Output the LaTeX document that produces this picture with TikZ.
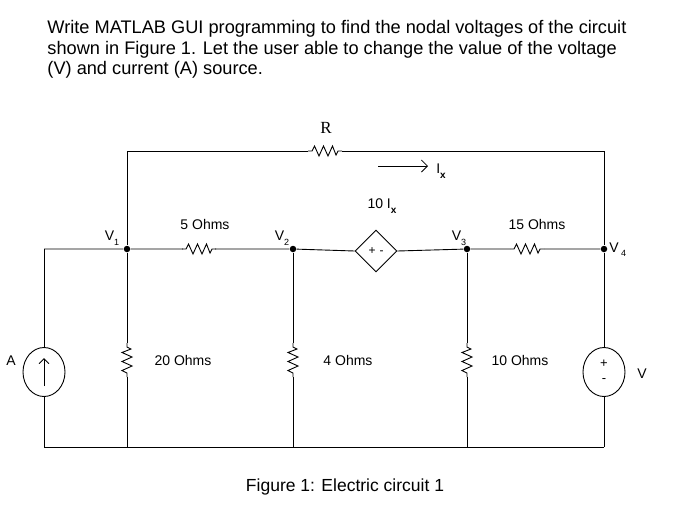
\documentclass[tikz,border=0pt]{standalone}
\usepackage{fontspec}
\setmainfont{Liberation Sans}
\usetikzlibrary{arrows.meta,shapes.geometric}
\begin{document}
\begin{tikzpicture}[x=1pt,y=-1pt,line width=0.9pt,
  lbl/.style={font=\fontsize{14}{16}\selectfont,inner sep=0},
  dot/.style={circle,fill,inner sep=0,minimum size=6.5pt},
  res/.pic={\draw (-17,0)--(-13,0)--(-10.5,-5)--(-6,5)--(-1.5,-5)--(3,5)--(7.5,-5)--(11,4)--(13,0)--(17,0);}]
\useasboundingbox (0,0) rectangle (673,507);
\node[anchor=north west,align=left,inner sep=0,font=\fontsize{18.2}{20.5}\selectfont] (title) at (47,20)
  {Write MATLAB GUI programming to find the nodal voltages of the circuit\\
   shown in Figure 1. Let the user able to change the value of the voltage\\
   (V) and current (A) source.};
% nodes
\coordinate (tl) at (127,151); \coordinate (tr) at (604,151);
\coordinate (ml) at (44,249);
\node[dot] (v1) at (127,249) {};
\node[dot] (v2) at (293,249) {};
\node[dot] (v3) at (467,249) {};
\node[dot] (v4) at (604,249) {};
\coordinate (b0) at (44,447); \coordinate (b1) at (127,447); \coordinate (b2) at (293,447);
\coordinate (b3) at (467,447); \coordinate (b4) at (604,447);
% top branch
\pic at (325,151) {res};
\draw (tl) -- (308,151) (342,151) -- (tr);
% middle wire
\pic at (199,249) {res};
\pic at (527,249) {res};
\node[draw,diamond,minimum size=42pt,inner sep=0,font=\fontsize{12}{12}\selectfont] (dep) at (376,251) {+\,\,-};
\draw (ml) -- (v1) -- (183,249) (215,249) -- (v2) -- (dep.west);
\draw (dep.east) -- (v3) -- (510,249) (544,249) -- (v4);
% verticals
\draw (tl) -- (v1) -- (127,343); \pic[rotate=90] at (127,360) {res}; \draw (127,377) -- (b1);
\draw (v2) -- (293,343); \pic[rotate=90] at (293,360) {res}; \draw (293,377) -- (b2);
\draw (v3) -- (467,343); \pic[rotate=90] at (467,360) {res}; \draw (467,377) -- (b3);
\node[draw,ellipse,minimum width=42pt,minimum height=49pt,inner sep=0] (isrc) at (44,372) {};
\draw[-{Straight Barb[length=5pt]}] (44,386) -- (44,358);
\draw (ml) -- (isrc.north) (isrc.south) -- (b0);
\node[draw,ellipse,minimum width=42pt,minimum height=49pt,inner sep=0] (vsrc) at (604,372) {};
\node[inner sep=0,font=\fontsize{13}{13}\selectfont] (vp) at (604,364) {+};
\node[inner sep=0,font=\fontsize{13}{13}\selectfont] (vm) at (604,381) {-};
\draw (tr) -- (v4) -- (vsrc.north) (vsrc.south) -- (b4);
\draw (b0) -- (b4);
% Ix arrow
\coordinate (ax0) at (378,166); \coordinate (ax1) at (428,166);
\draw[-{Straight Barb[length=6pt]},line width=0.8pt] (ax0) -- (ax1);
% labels
\node[lbl,font=\fontsize{17}{17}\selectfont] (lr) at (326,128) {\fontspec{Liberation Serif}R};
\node[lbl] (lix) at (441,171) {I\raisebox{-5pt}{\fontsize{10}{10}\selectfont\bfseries x}};
\node[lbl] (ldep) at (382,206) {10 I\raisebox{-5pt}{\fontsize{10}{10}\selectfont\bfseries x}};
\node[lbl] (l5) at (205,224) {5 Ohms};
\node[lbl] (l15) at (537,224) {15 Ohms};
\node[lbl] (lv1) at (112,238) {V\raisebox{-5pt}{\fontsize{9}{9}\selectfont 1}};
\node[lbl] (lv2) at (282,238) {V\raisebox{-5pt}{\fontsize{9}{9}\selectfont 2}};
\node[lbl] (lv3) at (459,238) {V\raisebox{-5pt}{\fontsize{9}{9}\selectfont 3}};
\node[lbl,anchor=west] (lv4) at (609,250) {V\,\raisebox{-4pt}{\fontsize{9}{9}\selectfont 4}};
\node[lbl] (l20) at (183,360) {20 Ohms};
\node[lbl] (l4) at (348,360) {4 Ohms};
\node[lbl] (l10) at (520,360) {10 Ohms};
\node[lbl] (la) at (11,361) {A};
\node[lbl] (lv) at (642,374) {V};
\node[inner sep=0,font=\fontsize{17.5}{17.5}\selectfont] (cap) at (345,487) {Figure 1: Electric circuit 1};
\end{tikzpicture}
\end{document}
